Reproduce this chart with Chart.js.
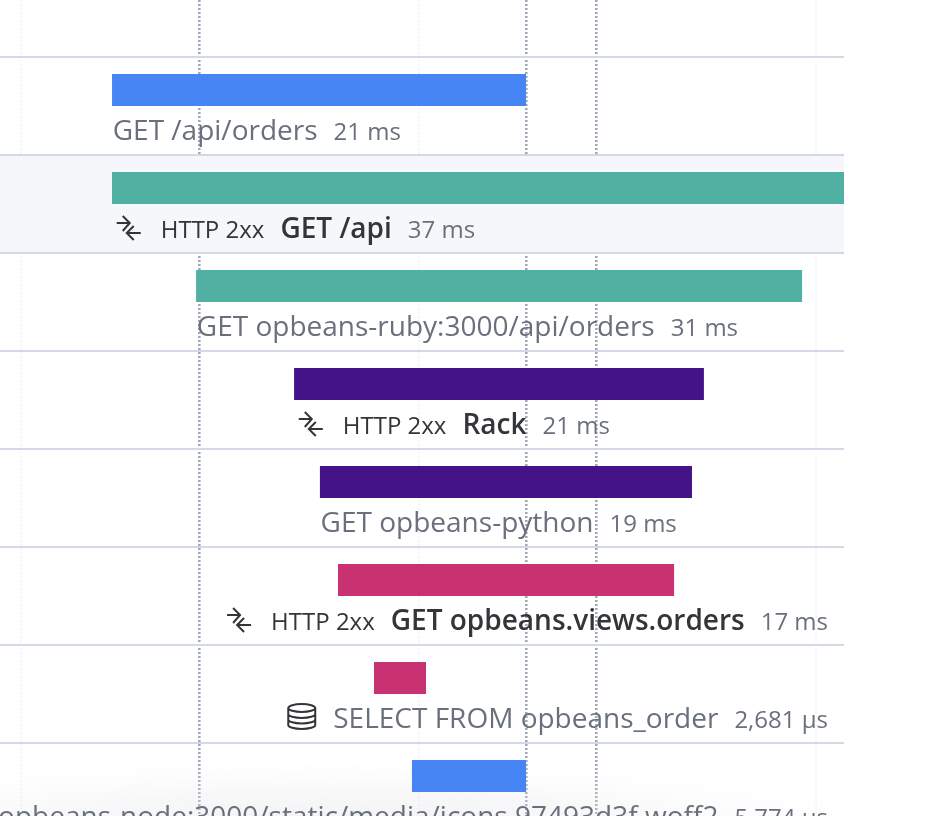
<!DOCTYPE html>
<html>
<head>
<meta charset="utf-8">
<style>
html,body{margin:0;padding:0;background:#fff;overflow:hidden;width:926px;height:816px}
#wrap{position:relative;width:926px;height:816px}
canvas{display:block}
</style>
<script src="https://cdn.jsdelivr.net/npm/chart.js@4/dist/chart.umd.min.js"></script>
</head>
<body>
<div id="wrap"><canvas id="c" width="926" height="816"></canvas></div>
<script>
const rowNames = ["GET /api/orders","GET /api","GET opbeans-ruby:3000/api/orders","Rack","GET opbeans-python","GET opbeans.views.orders","SELECT FROM opbeans_order","opbeans-node:3000/static/media/icons.97493d3f.woff2"];
const startMs = [4.58,4.58,8.81,13.74,15.04,15.95,17.76,19.67];
const endMs = [25.41,41.58,39.30,34.36,33.76,32.86,20.38,25.41];
const durations = ["21 ms","37 ms","31 ms","21 ms","19 ms","17 ms","2,681 µs","5,774 µs"];
const barColors = ["#4785f4","#50b0a2","#50b0a2","#431387","#431387","#c93270","#c93270","#4785f4"];
const statusText = ["","HTTP 2xx","","HTTP 2xx","","HTTP 2xx","",""];
const rowIcons = ["","merge","","merge","","merge","db",""];
const boldRow = [false,true,false,true,false,true,false,false];
const markMs = [8.96,25.41,28.93];
const gridMs = [0,20,40];
const highlightRow = 1;

const rowSeps = rowNames.map((_, i) => i - 33/98);
const FONT = '"Open Sans"';
const DARK = '#333538';

function drawIcon(ctx, kind, x, cy){
  ctx.save();
  ctx.translate(x, cy);
  ctx.strokeStyle = DARK;
  ctx.lineWidth = 2;
  ctx.lineCap = 'butt';
  ctx.lineJoin = 'miter';
  if (kind === 'merge') {
    ctx.beginPath();
    ctx.moveTo(4,-3); ctx.lineTo(17,-3);
    ctx.moveTo(10,-10); ctx.lineTo(17,-3); ctx.lineTo(10,5);
    ctx.moveTo(14,7); ctx.lineTo(28,7);
    ctx.moveTo(21,0); ctx.lineTo(14,7); ctx.lineTo(21,14);
    ctx.stroke();
  } else if (kind === 'db') {
    const l = 3, r = 30, rx = 13.5, ry = 4, c = 16.5;
    ctx.beginPath();
    ctx.ellipse(c,-8,rx,ry,0,0,Math.PI*2);
    ctx.moveTo(l,-8); ctx.lineTo(l,9);
    ctx.moveTo(r,-8); ctx.lineTo(r,9);
    ctx.moveTo(l,-2); ctx.ellipse(c,-2,rx,ry,0,Math.PI,0,true);
    ctx.moveTo(l,3.5); ctx.ellipse(c,3.5,rx,ry,0,Math.PI,0,true);
    ctx.moveTo(l,9); ctx.ellipse(c,9,rx,ry,0,Math.PI,0,true);
    ctx.stroke();
  }
  ctx.restore();
}

const rowBackdrop = {
  id:'rowBackdrop',
  beforeDatasetsDraw(chart){
    const {ctx, chartArea:a, scales:{y}, height} = chart;
    const t = y.getPixelForValue(rowSeps[highlightRow]);
    const b = y.getPixelForValue(rowSeps[highlightRow+1]);
    ctx.save();
    ctx.fillStyle = '#f5f7fa';
    ctx.fillRect(a.left, t+1, a.right-a.left, b-t-2);
    ctx.restore();
    // soft fade towards the bottom edge, beneath the bars and text
    ctx.save();
    ctx.translate(330, height+10);
    ctx.scale(1, 0.12);
    const g = ctx.createRadialGradient(0,0,0,0,0,560);
    g.addColorStop(0,'rgba(225,226,230,0.42)');
    g.addColorStop(0.5,'rgba(228,229,233,0.28)');
    g.addColorStop(0.8,'rgba(235,236,240,0.10)');
    g.addColorStop(1,'rgba(240,241,244,0)');
    ctx.fillStyle = g;
    ctx.fillRect(-400,-800,1000,900);
    ctx.restore();
  }
};

const rowText = {
  id:'rowText',
  afterDatasetsDraw(chart){
    const {ctx, scales:{x,y}} = chart;
    const gap = 16, iconW = 32, rightLimit = 828;
    ctx.save();
    ctx.textBaseline = 'alphabetic';
    ctx.textAlign = 'left';
    rowNames.forEach((name,i)=>{
      const fName = (boldRow[i] ? '600 ' : '400 ') + '28px ' + FONT;
      const fStat = '400 24px ' + FONT;
      const fDur = '400 24px ' + FONT;
      ctx.font = fName; const wName = ctx.measureText(name).width;
      ctx.font = fDur; const wDur = ctx.measureText(durations[i]).width;
      ctx.font = fStat; const wStat = statusText[i] ? ctx.measureText(statusText[i]).width : 0;
      const total = (rowIcons[i] ? iconW+gap : 0) + (statusText[i] ? wStat+gap : 0) + wName + gap + wDur;
      let px = x.getPixelForValue(startMs[i]) + 0.7;
      if (px + total > rightLimit) px = rightLimit - total;
      const cy = y.getPixelForValue(i);
      const base = cy + 50;
      if (rowIcons[i]) { drawIcon(ctx, rowIcons[i], px, cy+38); px += iconW+gap; }
      if (statusText[i]) {
        ctx.font = fStat; ctx.fillStyle = DARK;
        ctx.fillText(statusText[i], px, base);
        px += wStat+gap;
      }
      ctx.font = fName; ctx.fillStyle = boldRow[i] ? DARK : '#69707d';
      ctx.fillText(name, px, base);
      px += wName+gap;
      ctx.font = fDur; ctx.fillStyle = '#69707d';
      ctx.fillText(durations[i], px, base);
    });
    ctx.restore();
  }
};

const hiddenTicks = {display:false};
new Chart(document.getElementById('c'),{
  type:'bar',
  data:{
    labels:rowNames,
    datasets:[{
      data:rowNames.map((_,i)=>({x:[startMs[i],endMs[i]],y:i})),
      backgroundColor:barColors,
      barThickness:32,
      borderWidth:0,
      inflateAmount:0
    }]
  },
  options:{
    indexAxis:'y',
    responsive:false,
    animation:false,
    devicePixelRatio:1,
    layout:{padding:{left:0,right:82,top:0,bottom:0}},
    plugins:{legend:{display:false},tooltip:{enabled:false},title:{display:false}},
    scales:{
      x:{
        type:'linear', min:-21/19.875, max:823/19.875, position:'bottom',
        ticks:hiddenTicks,
        afterBuildTicks(s){ s.ticks = gridMs.map(v=>({value:v})); },
        border:{display:false,dash:[2,2]},
        grid:{color:'#f3f5f8',lineWidth:2,drawTicks:false}
      },
      marks:{
        type:'linear', axis:'x', min:-21/19.875, max:823/19.875, position:'top',
        ticks:hiddenTicks,
        afterBuildTicks(s){ s.ticks = markMs.map(v=>({value:v})); },
        border:{display:false,dash:[2,2]},
        grid:{color:'#a0a8b9',lineWidth:2.6,drawTicks:false}
      },
      y:{
        type:'linear', reverse:true, min:-90/98, max:726/98, offset:false,
        ticks:hiddenTicks,
        afterBuildTicks(s){ s.ticks = rowSeps.map(v=>({value:v})); },
        border:{display:false},
        grid:{color:'#d3dae6',lineWidth:2,drawTicks:false,offset:false}
      }
    }
  },
  plugins:[rowBackdrop,rowText]
});
</script>
</body>
</html>
